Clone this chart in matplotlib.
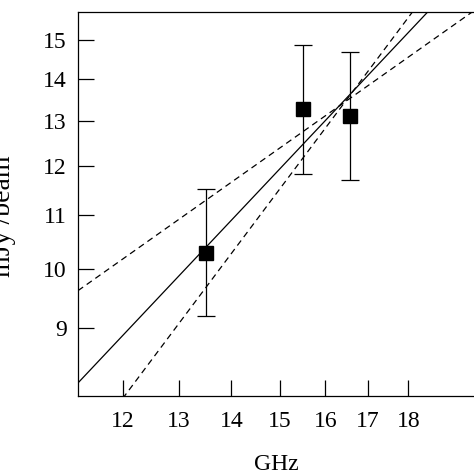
import numpy as np
import matplotlib
matplotlib.use("Agg")
import matplotlib.pyplot as plt
from matplotlib.ticker import FixedLocator, NullLocator

plt.rcParams['font.family'] = ['Liberation Serif', 'DejaVu Serif']

# data points (GHz, mJy/beam) with asymmetric error bars
freq = [13.5, 15.5, 16.58]
flux = [10.28, 13.27, 13.12]
err_lo = [1.09, 1.43, 1.42]
err_hi = [1.24, 1.60, 1.57]

# power-law fits: flux at pivot frequency and spectral index
pivot = 16.5
fit_amp = [13.55, 13.48, 13.51]
fit_index = [1.325, 0.883, 1.666]
fit_style = ['-', (0, (5, 3.5)), (0, (5, 3.5))]

xticks = [12, 13, 14, 15, 16, 17, 18]
yticks = [9, 10, 11, 12, 13, 14, 15]
xlim = (11.26, 19.76)
ylim = (7.98, 15.77)

fig = plt.figure(figsize=(4.74, 4.74), dpi=100)
ax = fig.add_axes([78/474, 1-396/474, 1-78/474, (396-12)/474])
ax.set_xscale('log')
ax.set_yscale('log')
ax.set_xlim(*xlim)
ax.set_ylim(*ylim)

xx = np.geomspace(xlim[0], xlim[1], 200)
for a, k, ls in zip(fit_amp, fit_index, fit_style):
    ax.plot(xx, a*(xx/pivot)**k, color='black', lw=0.9, linestyle=ls)

ax.errorbar(freq, flux, yerr=[err_lo, err_hi], fmt='s', color='black',
            ms=10, capsize=6.8, elinewidth=0.9, capthick=0.9, zorder=5)

ax.xaxis.set_major_locator(FixedLocator(xticks))
ax.yaxis.set_major_locator(FixedLocator(yticks))
ax.xaxis.set_minor_locator(NullLocator())
ax.yaxis.set_minor_locator(NullLocator())
ax.set_xticklabels([str(t) for t in xticks])
ax.set_yticklabels([str(t) for t in yticks])
ax.tick_params(direction='in', length=11.5, width=0.9, labelsize=17,
               top=False, right=False, pad=8)
ax.tick_params(axis='x', pad=11)
ax.spines['right'].set_visible(False)
for s in ['left', 'bottom', 'top']:
    ax.spines[s].set_linewidth(0.9)

ax.set_xlabel('GHz', fontsize=17, labelpad=16)
fig.text(16/474, 1-216/474, 'mJy /beam', rotation=90, ha='right', va='center',
         fontsize=20)

fig.savefig('out.png', dpi=100)
